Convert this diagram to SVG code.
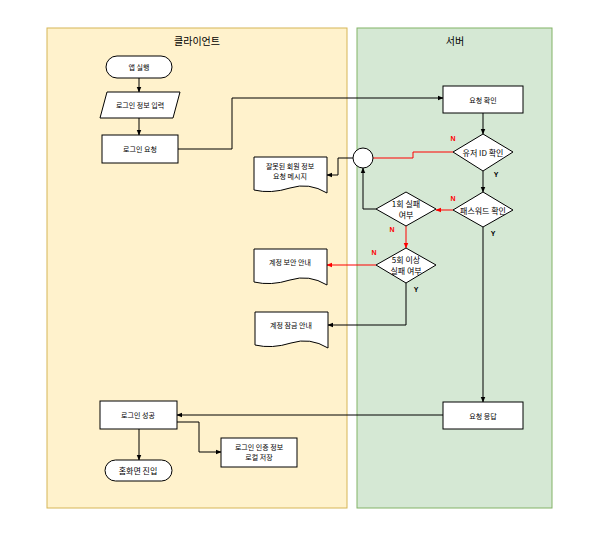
<svg xmlns="http://www.w3.org/2000/svg" width="601" height="537" viewBox="0 0 601 537">
<defs>
<marker id="a" viewBox="0 0 10 10" refX="9" refY="5" markerWidth="6" markerHeight="6" orient="auto"><path d="M0,1 L10,5 L0,9 z" fill="#000"/></marker>
<marker id="r" viewBox="0 0 10 10" refX="9" refY="5" markerWidth="6" markerHeight="6" orient="auto"><path d="M0,1 L10,5 L0,9 z" fill="#f00"/></marker>
</defs>
<style>
text{font-family:"Noto Sans CJK KR","Liberation Sans",sans-serif;font-size:7px;text-anchor:middle;dominant-baseline:central;fill:#000}
.t{font-size:10px}
.n{fill:#fff;stroke:#000;stroke-width:1}
.c path{fill:none;stroke:#000;stroke-width:1}
.c .red{stroke:#f00;marker-end:url(#r)}
.lab{font-family:"Liberation Sans",sans-serif;font-weight:bold;font-size:7px}
</style>
<rect width="601" height="537" fill="#fff"/>
<g id="lane-client"><rect x="47" y="28" width="300" height="480" fill="#fff2cc" stroke="#d6b656"/><text class="t" x="197" y="40">클라이언트</text></g>
<g id="lane-server"><rect x="357" y="28" width="195" height="480" fill="#d5e8d4" stroke="#82b366"/><text class="t" x="455" y="40">서버</text></g>
<g class="c" id="connectors">
<path d="M139,78V92" marker-end="url(#a)"/>
<path d="M139,118V135" marker-end="url(#a)"/>
<path d="M178,149H232V98H443" marker-end="url(#a)"/>
<path d="M483,113V134" marker-end="url(#a)"/>
<path class="red" d="M453,152H413V158H373" style="marker-end:none"/>
<path d="M353,158H338V175H327" marker-end="url(#a)"/>
<path d="M483,171V192" marker-end="url(#a)"/>
<path class="red" d="M453,210H436"/>
<path d="M376,209H363V168" marker-end="url(#a)"/>
<path class="red" d="M406,226V248"/>
<path class="red" d="M376,265H327"/>
<path d="M406,283V325H328" marker-end="url(#a)"/>
<path d="M483,227V402" marker-end="url(#a)"/>
<path d="M443,415H177" marker-end="url(#a)"/>
<path d="M139,429V460" marker-end="url(#a)"/>
<path d="M177,422H199V452H221" marker-end="url(#a)"/>
</g>
<g id="labels">
<text class="lab" x="453" y="138" fill="#f00" style="fill:#f00">N</text>
<text class="lab" x="496" y="174">Y</text>
<text class="lab" x="453" y="198" style="fill:#f00">N</text>
<text class="lab" x="493" y="233">Y</text>
<text class="lab" x="392" y="229" style="fill:#f00">N</text>
<text class="lab" x="374" y="252" style="fill:#f00">N</text>
<text class="lab" x="416" y="289">Y</text>
</g>
<g id="app-start"><rect class="n" x="106" y="56" width="66" height="22" rx="11"/><text x="139" y="67">앱 실행</text></g>
<g id="input"><path class="n" d="M107,92H180L173,118H100Z"/><text x="140" y="105">로그인 정보 입력</text></g>
<g id="login-req"><rect class="n" x="102" y="135" width="76" height="28"/><text x="140" y="149">로그인 요청</text></g>
<g id="req-check"><rect class="n" x="443" y="86" width="80" height="27"/><text x="483" y="99.5">요청 확인</text></g>
<g id="uid"><path class="n" d="M483,134L513,152L483,171L453,152Z"/><text x="483" y="152" style="font-size:8px">유저 ID 확인</text></g>
<g id="pw"><path class="n" d="M483,192L513,210L483,227L453,210Z"/><text x="483" y="210" style="font-size:8px">패스워드 확인</text></g>
<g id="merge"><circle class="n" cx="363" cy="158" r="10"/></g>
<g id="wrong-doc"><path class="n" d="M254,157H327V193Q309,182 290,188T254,190Z"/><text x="290" y="166">잘못된 회원 정보</text><text x="290" y="176">요청 메시지</text></g>
<g id="fail1"><path class="n" d="M406,192L436,209L406,226L376,209Z"/><text x="406" y="203" style="font-size:8px">1회 실패</text><text x="406" y="214" style="font-size:8px">여부</text></g>
<g id="fail5"><path class="n" d="M406,248L436,265L406,283L376,265Z"/><text x="406" y="259" style="font-size:8px">5회 이상</text><text x="406" y="270" style="font-size:8px">실패 여부</text></g>
<g id="sec-doc"><path class="n" d="M254,249H327V285Q309,274 290,280T254,282Z"/><text x="290" y="262">계정 보안 안내</text></g>
<g id="lock-doc"><path class="n" d="M255,312H328V348Q310,337 291,343T255,345Z"/><text x="291" y="325">계정 잠금 안내</text></g>
<g id="response"><rect class="n" x="443" y="402" width="80" height="27"/><text x="483" y="415.5">요청 응답</text></g>
<g id="success"><rect class="n" x="100" y="401" width="77" height="28"/><text x="138" y="415">로그인 성공</text></g>
<g id="store"><rect class="n" x="221" y="438" width="76" height="29"/><text x="259" y="447">로그인 인증 정보</text><text x="259" y="457">로컬 저장</text></g>
<g id="home"><rect class="n" x="105" y="460" width="67" height="21" rx="10.5"/><text x="138" y="470.5" style="font-size:8px">홈화면 진입</text></g>
</svg>
